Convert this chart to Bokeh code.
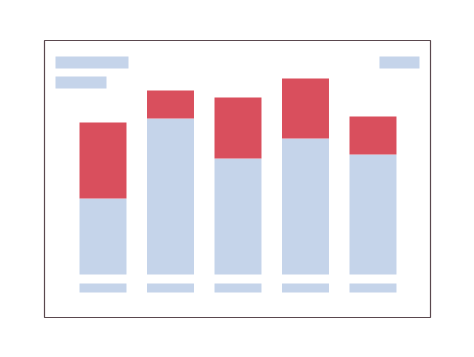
from bokeh.plotting import figure
from bokeh.models import ColumnDataSource, Range1d
from bokeh.embed import file_html
from bokeh.resources import INLINE

# Data (abstract placeholder chart: two stacked series over five categories)
positions = [0, 1, 2, 3, 4]
series_base = [38, 78, 58, 68, 60]
series_top = [38, 14, 30.5, 30, 19]

BLUE = "#c5d4ea"
RED = "#d94f5d"
FRAME = "#5a484e"

p = figure(width=474, height=357, x_axis_type=None, y_axis_type=None,
           toolbar_location=None, output_backend="svg",
           min_border_left=44, min_border_right=44,
           min_border_top=40, min_border_bottom=40)
p.x_range = Range1d(-0.8667, 4.852)
p.y_range = Range1d(-21.5, 117)
p.grid.visible = False
p.outline_line_color = FRAME
p.outline_line_width = 1.2
p.background_fill_color = "white"
p.border_fill_color = "white"

src = ColumnDataSource(dict(x=positions, base=series_base, top=series_top))
bar_w = 0.696
p.vbar_stack(["base", "top"], x="x", width=bar_w, color=[BLUE, RED],
             line_color=None, source=src)

# category-label placeholders under each bar
p.vbar(x=positions, width=bar_w, bottom=-9, top=-4.5, color=BLUE, line_color=None)

# title / subtitle / legend placeholders
p.quad(left=[-0.7037, -0.7037, 4.096], right=[0.3778, 0.0519, 4.689],
       bottom=[103, 93, 103], top=[109, 99, 109], color=BLUE, line_color=None)

open("out.html", "w").write(file_html(p, INLINE))
